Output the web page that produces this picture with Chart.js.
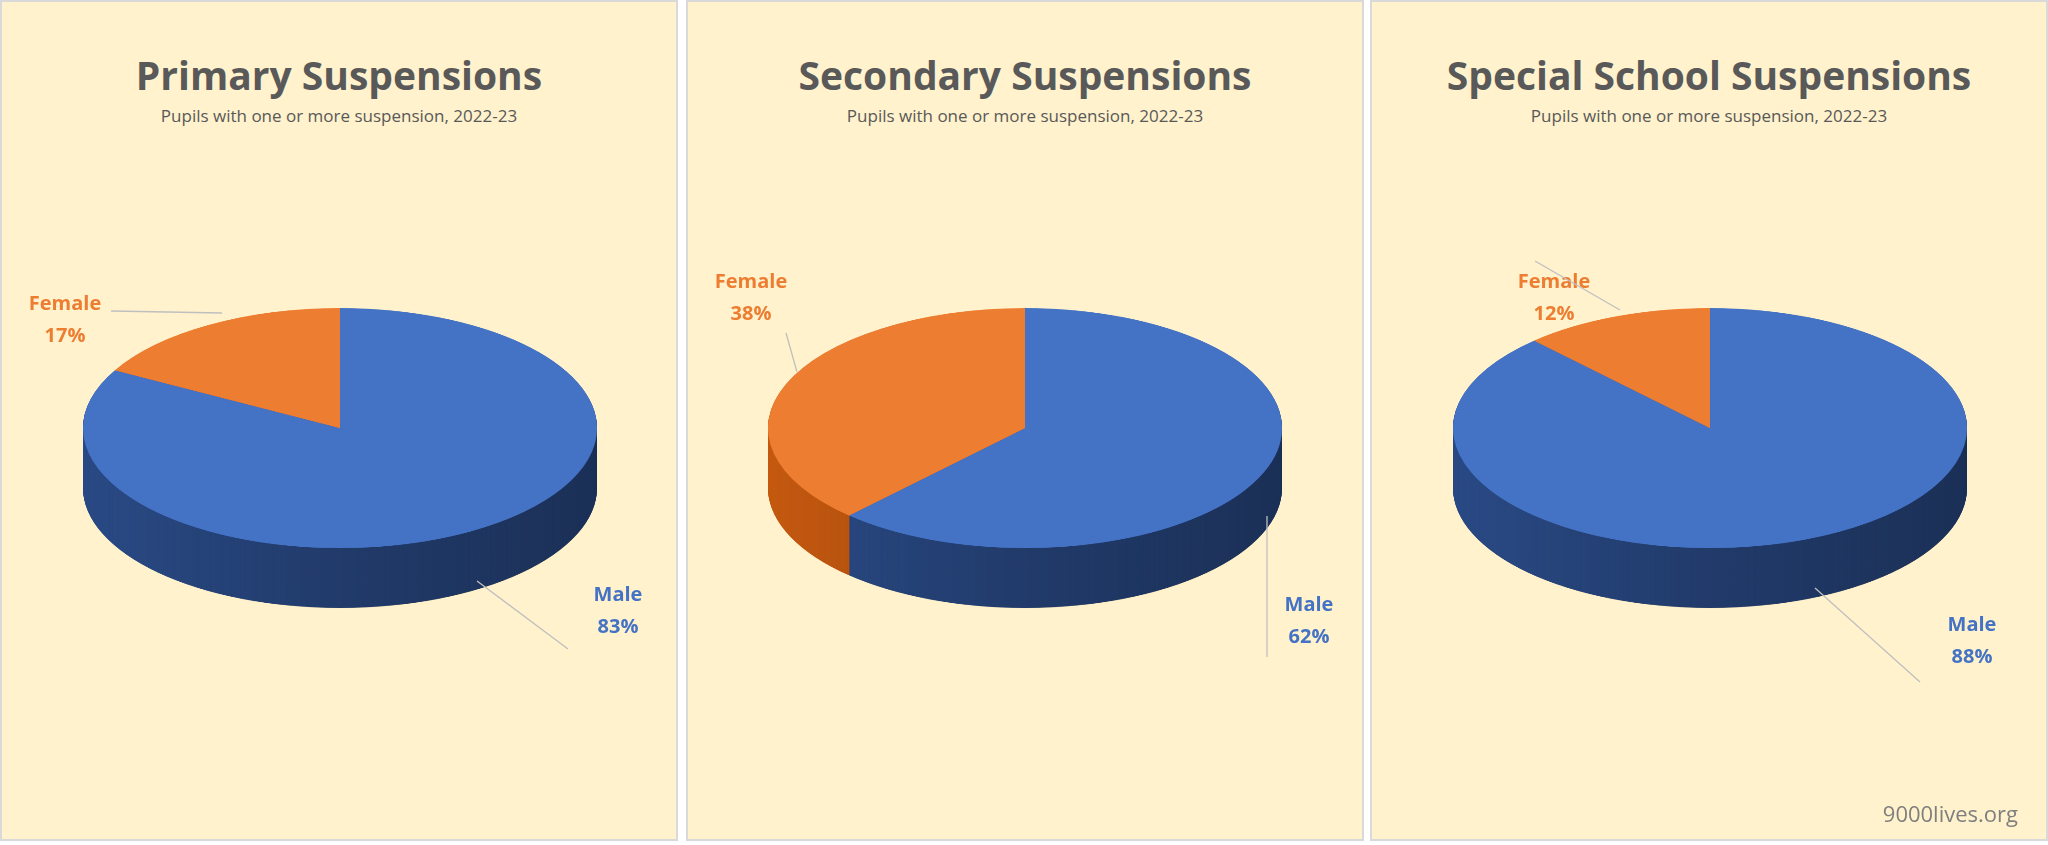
<!DOCTYPE html><html><head><meta charset="utf-8">
<script src="https://cdn.jsdelivr.net/npm/chart.js@4"></script>
<style>
body{margin:0;width:2048px;height:845px;background:#fff;position:relative;overflow:hidden;font-family:"Open Sans",sans-serif}
.p{position:absolute;top:0;height:841px;background:#FFF2CC;border:2px solid #d9d9d9;box-sizing:border-box}
.t{position:absolute;left:0;right:0;text-align:center;font-weight:700;font-size:39px;color:#595959;top:46px}
.s{position:absolute;left:0;right:0;text-align:center;font-size:17px;color:#595959;top:102px}
canvas{position:absolute}
.l{position:absolute;font-weight:700;font-size:20px;line-height:32px;text-align:center}
svg{position:absolute;left:0;top:0}
</style></head><body>
<script>
const titles=["Primary Suspensions","Secondary Suspensions","Special School Suspensions"];
const subtitle="Pupils with one or more suspension, 2022-23";
const categories=["Male","Female"];
const maleValues=[83,62,88];
const femaleValues=[17,38,12];
const panelLeft=[0,686,1370],panelW=678;
const centers=[[340,428],[1025,428],[1710,428]];
const labelPos={Female:[[65,303],[751,281],[1554,281]],Male:[[618,594],[1309,604],[1972,624]]};
const leaders=[[[111,311,222,313],[477,581,568,649]],[[786,333,797,372],[1267,516,1267,657]],[[1535,261,1620,310],[1815,588,1920,682]]];
const topColors=['#4472C4','#ED7D31'],sideColors=['#2a4a85','#c55a11'],txtColors=['#4472C4','#ED7D31'];
const R=257,ratio=0.467,depthPx=60,depth=depthPx/ratio;
const sidePlugin={id:'side',beforeDatasetsDraw(c){const ctx=c.ctx;const arcs=c.getDatasetMeta(0).data;
 for(let k=Math.round(depth);k>=1;k--){arcs.forEach((a,i)=>{ctx.fillStyle=sideColors[i];
  ctx.beginPath();ctx.moveTo(a.x,a.y+k);ctx.arc(a.x,a.y+k,a.outerRadius,a.startAngle,a.endAngle);ctx.closePath();ctx.fill();});}
 const a=arcs[0];const g=ctx.createLinearGradient(a.x-R,0,a.x+R,0);g.addColorStop(0,'rgba(0,0,0,0)');g.addColorStop(0.5,'rgba(0,0,0,0.2)');g.addColorStop(1,'rgba(0,0,0,0.35)');
 ctx.fillStyle=g;ctx.beginPath();ctx.arc(a.x,a.y+depth,a.outerRadius,0,Math.PI);ctx.lineTo(a.x-a.outerRadius,a.y);ctx.arc(a.x,a.y,a.outerRadius,Math.PI,0,true);ctx.closePath();ctx.fill();}};
let svg='<svg width="2048" height="845">';
for(let i=0;i<3;i++){
 const p=document.createElement('div');p.className='p';p.style.left=panelLeft[i]+'px';p.style.width=panelW+'px';
 p.innerHTML=`<div class="t">${titles[i]}</div><div class="s">${subtitle}</div>`;document.body.appendChild(p);
 const cv=document.createElement('canvas');const W=2*R+26,H=2*R+26+Math.ceil(depth)+10;
 cv.style.width=W+'px';cv.style.height=H+'px';cv.style.left=(centers[i][0]-W/2)+'px';
 cv.style.top=(centers[i][1]-(R+13)*ratio)+'px';cv.style.transformOrigin='0 0';cv.style.transform=`scaleY(${ratio})`;
 document.body.appendChild(cv);
 new Chart(cv,{type:'pie',data:{labels:categories,datasets:[{data:[maleValues[i],femaleValues[i]],backgroundColor:topColors,borderWidth:0}]},
  options:{responsive:false,animation:false,layout:{padding:{top:13,left:13,right:13,bottom:13+Math.ceil(depth)+10}},plugins:{legend:{display:false},tooltip:{enabled:false}}},plugins:[sidePlugin]});
 categories.forEach((c,j)=>{const d=document.createElement('div');d.className='l';d.style.color=txtColors[j];
  const v=j?femaleValues[i]:maleValues[i];const pos=labelPos[c][i];d.style.left=(pos[0]-40)+'px';d.style.width='80px';d.style.top=(pos[1]-16)+'px';
  d.innerHTML=c+'<br>'+v+'%';document.body.appendChild(d);});
 leaders[i].forEach(l=>{svg+=`<line x1="${l[0]}" y1="${l[1]}" x2="${l[2]}" y2="${l[3]}" stroke="#bfbfbf" stroke-width="1.3"/>`;});
}
svg+='</svg>';
const s=document.createElement('div');s.innerHTML=svg;document.body.appendChild(s.firstChild);
const w=document.createElement('div');w.textContent='9000lives.org';w.style.cssText='position:absolute;right:30px;top:798px;font-size:22px;color:#7f7f7f';document.body.appendChild(w);
</script></body></html>
